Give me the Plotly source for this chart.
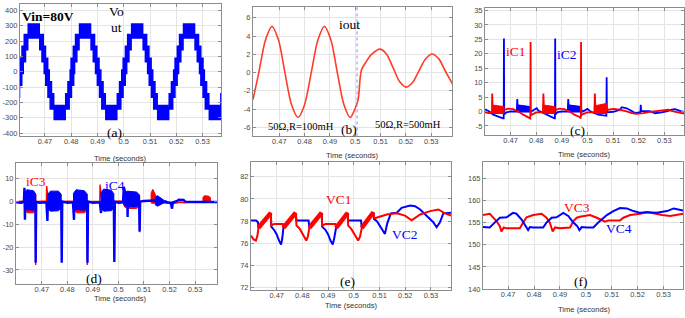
import plotly.graph_objects as go

W, H = 685, 318

# ---------------- data ----------------
# (a) Vout staircase
a_peak_t = [0.46573, 0.48526, 0.50509, 0.52484]
a_trough_t = [0.45585, 0.47561, 0.49525, 0.51500, 0.53465]
a_levels = [77, 155, 232]
a_box = [232, 312]
a_edges = [0.0021, 0.00295, 0.0038, 0.00465]

# (b) iout
b_t = [0.4596, 0.4619, 0.4645, 0.4671, 0.4697, 0.4722, 0.4748, 0.4774, 0.4800, 0.4826,
       0.4852, 0.4878, 0.4904, 0.4929, 0.4955, 0.4980, 0.4997, 0.5011, 0.5024, 0.5042,
       0.5063, 0.5099, 0.5125, 0.5150, 0.5175, 0.5201, 0.5227, 0.5252, 0.5278, 0.5303,
       0.5330, 0.5355, 0.5386]
b_v = [-2.96, 0.0, 3.54, 5.07, 3.54, 0.0, -3.5, -4.93, -3.5, 0.0,
       3.54, 5.07, 3.54, 0.0, -3.5, -4.93, -4.1, -3.0, 0.25, 1.15,
       1.96, 2.57, 1.95, 0.48, -0.99, -1.6, -1.07, 0.22, 1.51, 2.04,
       1.5, 0.2, -1.36]
b_switch_t = 0.5007

# (c) iC1 (red), iC2 (blue)
c_blue_t = [0.4600, 0.4617, 0.4632, 0.4652, 0.4670, 0.4673, 0.4674, 0.4675, 0.4684, 0.4700,
            0.4724, 0.4726, 0.4728, 0.4776, 0.4780, 0.4795, 0.4802, 0.4808, 0.4815, 0.4834,
            0.4854, 0.4871, 0.4873, 0.4874, 0.4875, 0.4884, 0.4900, 0.4923, 0.4925, 0.4927,
            0.4977, 0.4982, 0.4995, 0.5000, 0.5008, 0.5016, 0.5042, 0.5068, 0.5074, 0.5075,
            0.5076, 0.5101, 0.5127, 0.5134, 0.5153, 0.5173, 0.5186, 0.5203, 0.5207, 0.5208,
            0.5210, 0.5244, 0.5264, 0.5290, 0.5309, 0.5329, 0.5342, 0.5361, 0.5380]
c_blue_v = [0.8, 0.0, -1.1, -1.9, -2.4, -2.4, 25.3, -1.0, -0.3, 0.0,
            0.0, 4.3, 1.0, 0.5, 0.0, 0.6, 1.1, 0.3, 0.0, -0.9,
            -1.9, -2.4, -2.4, 25.3, -1.0, -0.2, 0.0, 0.0, 4.3, 1.0,
            0.5, 0.0, 0.7, 0.9, 0.3, -0.2, -1.1, -1.5, -1.5, 11.9,
            -0.3, -0.1, 0.6, 1.5, 1.1, 0.2, -0.6, -0.3, -0.3, 2.3,
            0.2, 0.1, -0.6, -0.3, 0.0, 0.6, 0.8, 0.2, -0.2]
c_blue_band_t0 = [0.4726, 0.4925]
c_blue_band_t1 = [0.4776, 0.4977]
c_blue_band_top0 = [2.3, 2.3]
c_blue_band_top1 = [1.7, 1.7]
c_blue_band_bot = [-0.2, -0.2]

c_red_t = [0.4600, 0.4619, 0.4627, 0.4628, 0.4630, 0.4674, 0.4678, 0.4690, 0.4710, 0.4730,
           0.4749, 0.4769, 0.4776, 0.4777, 0.4778, 0.4779, 0.4785, 0.4800, 0.4826, 0.4828,
           0.4830, 0.4873, 0.4878, 0.4890, 0.4910, 0.4930, 0.4949, 0.4969, 0.4973, 0.4974,
           0.4975, 0.4976, 0.4985, 0.5000, 0.5027, 0.5029, 0.5031, 0.5075, 0.5082, 0.5101,
           0.5127, 0.5153, 0.5173, 0.5192, 0.5218, 0.5244, 0.5270, 0.5296, 0.5316, 0.5335,
           0.5361, 0.5380]
c_red_v = [-0.3, -0.6, -0.3, 6.2, 1.5, 0.5, 0.6, 1.0, 0.8, 0.0,
           -1.1, -1.9, -2.4, -2.4, 24.1, -1.3, -1.0, -0.3, -0.3, 6.2,
           1.5, 0.5, 0.6, 1.0, 0.8, 0.0, -1.1, -1.9, -2.4, -2.4,
           24.1, -1.3, -0.8, -0.3, -0.3, 6.2, 1.5, 0.6, 0.6, 0.9,
           0.6, 0.0, -0.6, -0.8, -0.6, -0.1, 0.2, 0.6, 0.6, 0.0,
           -0.6, -0.8]
c_red_band_t0 = [0.4630, 0.4830, 0.5031]
c_red_band_t1 = [0.4674, 0.4873, 0.5075]
c_red_band_top0 = [2.2, 2.2, 2.0]
c_red_band_top1 = [1.7, 1.7, 2.8]
c_red_band_bot = [-0.7, -0.7, -0.7]

# (d) iC3 (red), iC4 (blue)
d_blue_t = [0.4600, 0.4620, 0.4630, 0.4632, 0.4634, 0.4636, 0.4675, 0.4676, 0.4678, 0.4690,
            0.4718, 0.4722, 0.4724, 0.4776, 0.4778, 0.4780, 0.4800, 0.4822, 0.4826, 0.4828,
            0.4877, 0.4879, 0.4881, 0.4900, 0.4927, 0.4932, 0.4934, 0.4982, 0.4984, 0.4986,
            0.5000, 0.5018, 0.5021, 0.5035, 0.5036, 0.5037, 0.5081, 0.5083, 0.5085, 0.5100,
            0.5140, 0.5195, 0.5205, 0.5210, 0.5213, 0.5230, 0.5236, 0.5255, 0.5262, 0.5300,
            0.5340, 0.5386]
d_blue_v = [-0.3, -0.5, 0.0, 6.1, -8.0, 0.0, 0.0, -26.8, 0.0, -0.5,
            -0.3, -8.5, 0.0, 0.0, -26.8, 0.0, -0.5, -0.3, -8.0, 0.0,
            0.0, -26.8, 0.0, -0.5, -0.3, -5.0, 0.0, 0.0, -26.5, 0.0,
            -0.5, -0.3, 6.5, 0.0, -6.8, 0.0, 0.0, -13.1, 0.0, 0.3,
            0.5, -0.3, -0.5, -3.1, -0.3, 0.3, 0.8, 0.7, 0.0, -0.2,
            -0.3, -0.2]
d_blue_blob_t0 = [0.4632, 0.4723, 0.4824, 0.4932, 0.5021, 0.5144]
d_blue_blob_t1 = [0.4676, 0.4776, 0.4877, 0.4982, 0.5083, 0.5190]
d_blue_blob_hi0 = [5.2, 4.6, 5.2, 5.5, 4.6, 2.6]
d_blue_blob_hi1 = [4.8, 4.6, 4.8, 5.0, 4.2, 0.4]
d_blue_blob_lo0 = [-3.5, -4.2, -3.5, -4.2, -2.1, -2.0]
d_blue_blob_lo1 = [-3.8, -4.0, -3.8, -4.0, -2.1, -0.4]

d_red_t = [0.4600, 0.4632, 0.4675, 0.4676, 0.4677, 0.4700, 0.4718, 0.4719, 0.4722, 0.4726,
           0.4776, 0.4800, 0.4877, 0.4878, 0.4880, 0.4927, 0.4928, 0.4931, 0.4935, 0.4981,
           0.5000, 0.5082, 0.5083, 0.5085, 0.5100, 0.5127, 0.5165, 0.5180, 0.5200, 0.5220,
           0.5240, 0.5260, 0.5300, 0.5325, 0.5365, 0.5386]
d_red_v = [0.0, 0.3, 0.0, -27.8, 0.0, 0.2, 0.2, 6.8, 3.0, 0.0,
           0.0, 0.2, 0.0, -27.8, 0.0, 0.2, 7.5, 3.5, 0.0, 0.0,
           0.3, 0.0, -13.5, 0.0, 0.2, 0.3, 0.0, -0.5, -0.7, -0.7,
           -0.3, -0.5, -0.3, 0.0, 0.0, 0.0]
d_red_blob_t0 = [0.4634, 0.4826, 0.5022, 0.5128, 0.5331]
d_red_blob_t1 = [0.4677, 0.4878, 0.5083, 0.5162, 0.5360]
d_red_blob_hi0 = [4.4, 4.4, 3.6, 5.4, 2.6]
d_red_blob_hi1 = [4.4, 4.4, 3.6, 0.6, 2.4]
d_red_blob_lo0 = [-4.9, -4.9, -3.0, -0.8, 0.0]
d_red_blob_lo1 = [-4.9, -4.9, -3.0, -0.3, 0.0]

# (e) VC1 (red), VC2 (blue)
e_red_t = [0.4600, 0.4610, 0.4619, 0.4625, 0.4629, 0.4677, 0.4679, 0.4690, 0.4724, 0.4726,
           0.4774, 0.4777, 0.4790, 0.4800, 0.4809, 0.4815, 0.4821, 0.4827, 0.4875, 0.4877,
           0.4890, 0.4929, 0.4931, 0.4976, 0.4978, 0.4990, 0.5000, 0.5010, 0.5017, 0.5024,
           0.5031, 0.5076, 0.5079, 0.5100, 0.5128, 0.5167, 0.5199, 0.5225, 0.5240, 0.5258,
           0.5297, 0.5329, 0.5355, 0.5378]
e_red_v = [76.7, 76.35, 76.25, 76.7, 77.4, 78.75, 77.6, 77.75, 77.75, 77.4,
           78.75, 77.6, 77.3, 76.9, 76.45, 76.25, 76.6, 77.4, 78.75, 77.6,
           77.75, 77.75, 77.4, 78.75, 77.6, 77.3, 76.9, 76.45, 76.25, 76.6,
           77.4, 78.8, 78.25, 78.4, 78.6, 78.7, 78.5, 78.07, 78.3, 78.6,
           78.9, 79.05, 78.7, 78.5]
e_blue_t = [0.4600, 0.4620, 0.4627, 0.4629, 0.4677, 0.4679, 0.4690, 0.4700, 0.4710, 0.4717,
            0.4722, 0.4726, 0.4774, 0.4777, 0.4824, 0.4827, 0.4875, 0.4877, 0.4890, 0.4900,
            0.4910, 0.4918, 0.4924, 0.4931, 0.4976, 0.4978, 0.5028, 0.5031, 0.5076, 0.5078,
            0.5090, 0.5100, 0.5110, 0.5121, 0.5130, 0.5144, 0.5167, 0.5186, 0.5219, 0.5238,
            0.5258, 0.5284, 0.5309, 0.5322, 0.5335, 0.5348, 0.5378]
e_blue_v = [78.05, 78.05, 77.9, 77.4, 78.7, 77.5, 77.2, 76.8, 76.2, 75.9,
            76.5, 77.4, 78.7, 78.05, 78.05, 77.4, 78.7, 77.5, 77.2, 76.8,
            76.2, 75.9, 76.5, 77.4, 78.7, 78.05, 78.05, 77.4, 78.8, 78.2,
            78.0, 77.6, 77.2, 76.85, 77.8, 78.7, 78.75, 79.2, 79.4, 79.35,
            79.05, 78.45, 77.9, 77.45, 77.9, 78.7, 78.75]
e_saw_t0 = [0.4629, 0.4726, 0.4827, 0.4931, 0.5031]
e_saw_t1 = [0.4677, 0.4774, 0.4875, 0.4976, 0.5076]
e_saw_v0 = [77.4, 77.4, 77.4, 77.4, 77.4]
e_saw_v1 = [78.75, 78.75, 78.75, 78.75, 78.8]

# (f) VC3 (red), VC4 (blue)
f_red_t = [0.4603, 0.4629, 0.4655, 0.4668, 0.4674, 0.4683, 0.4694, 0.4745, 0.4758, 0.4771,
           0.4797, 0.4829, 0.4848, 0.4861, 0.4872, 0.4881, 0.4900, 0.4939, 0.4952, 0.4965,
           0.4977, 0.5016, 0.5042, 0.5061, 0.5074, 0.5087, 0.5132, 0.5145, 0.5171, 0.5210,
           0.5235, 0.5261, 0.5294, 0.5326, 0.5352, 0.5377]
f_red_v = [156.7, 157.0, 155.35, 154.2, 153.0, 153.9, 153.7, 153.7, 155.0, 156.2,
           156.7, 157.0, 156.1, 155.0, 153.0, 153.9, 153.7, 153.9, 155.35, 156.1,
           156.3, 156.7, 156.1, 155.5, 155.2, 155.5, 155.5, 156.1, 156.7, 157.0,
           157.4, 157.1, 156.7, 156.5, 156.8, 157.0]
f_blue_t = [0.4603, 0.4629, 0.4648, 0.4668, 0.4694, 0.4719, 0.4732, 0.4752, 0.4768, 0.4777,
            0.4784, 0.4797, 0.4835, 0.4848, 0.4868, 0.4887, 0.4913, 0.4932, 0.4952, 0.4967,
            0.4975, 0.4984, 0.5003, 0.5029, 0.5048, 0.5068, 0.5081, 0.5106, 0.5132, 0.5158,
            0.5184, 0.5210, 0.5235, 0.5274, 0.5313, 0.5339, 0.5365, 0.5377]
f_blue_v = [154.0, 153.9, 155.0, 156.1, 156.2, 157.2, 157.0, 155.7, 154.2, 153.3,
            154.0, 153.9, 153.9, 155.0, 156.1, 156.2, 157.2, 156.5, 155.0, 154.2,
            153.3, 154.0, 153.9, 153.9, 155.0, 156.1, 156.7, 157.6, 158.3, 158.2,
            157.6, 157.2, 157.35, 157.2, 157.6, 158.2, 157.9, 157.7]

x_tickvals = [0.47, 0.48, 0.49, 0.50, 0.51, 0.52, 0.53]
x_ticktext = ["0.47", "0.48", "0.49", "0.5", "0.51", "0.52", "0.53"]

# ---------------- styling ----------------
BLUE = "#0000ff"
RED = "#ff0000"
ORANGE = "#ff3c28"
GRID = "#e4e4e4"
FRAME = "#8c8c8c"
TICKC = "#4a4a4a"
SANS = "Liberation Sans, Arial, sans-serif"
SERIF = "Liberation Serif, Times New Roman, serif"


def box(px0, px1, py0, py1):
    return [px0 / W, px1 / W], [1 - py1 / H, 1 - py0 / H]


def axis(domain, rng, tickvals, ticktext, anchor, standoff):
    return dict(domain=domain, range=rng, tickvals=tickvals, ticktext=ticktext,
                anchor=anchor, showgrid=True, gridcolor=GRID, gridwidth=1,
                zeroline=False, showline=True, linecolor=FRAME, linewidth=1,
                mirror="ticks", ticks="inside", ticklen=3, tickcolor=FRAME,
                ticklabelstandoff=standoff,
                tickfont=dict(family=SANS, size=7.5, color=TICKC))


fig = go.Figure()

panels = {
    "a": dict(px=(20, 221, 2, 137), xr=[0.4605, 0.5370], yr=[-422, 442],
              yt=[-400, -300, -200, -100, 0, 100, 200, 300, 400]),
    "b": dict(px=(253, 452, 5, 137), xr=[0.4596, 0.5382], yr=[-7.0, 7.2],
              yt=[-6, -4, -2, 0, 2, 4, 6]),
    "c": dict(px=(485, 684, 6, 136), xr=[0.4600, 0.5377], yr=[-8.3, 35.9],
              yt=[-5, 0, 5, 10, 15, 20, 25, 30, 35]),
    "d": dict(px=(16, 217, 164, 287), xr=[0.4599, 0.5386], yr=[-36.0, 17.0],
              yt=[-30, -20, -10, 0, 10]),
    "e": dict(px=(251, 451, 163, 294), xr=[0.4600, 0.5378], yr=[71.76, 83.33],
              yt=[72, 74, 76, 78, 80, 82]),
    "f": dict(px=(483, 683, 163, 293), xr=[0.4603, 0.5375], yr=[139.9, 168.7],
              yt=[140, 145, 150, 155, 160, 165]),
}
refs = {}
layout_axes = {}
for i, (k, p) in enumerate(panels.items(), start=1):
    xd, yd = box(*p["px"])
    xs = "x" if i == 1 else f"x{i}"
    ys = "y" if i == 1 else f"y{i}"
    refs[k] = (xs, ys)
    xname = "xaxis" if i == 1 else f"xaxis{i}"
    yname = "yaxis" if i == 1 else f"yaxis{i}"
    layout_axes[xname] = axis(xd, p["xr"], x_tickvals, x_ticktext, ys, -2)
    layout_axes[yname] = axis(yd, p["yr"], p["yt"], [str(v) for v in p["yt"]], xs, 0)


def add(k, **kw):
    xs, ys = refs[k]
    fig.add_trace(go.Scatter(xaxis=xs, yaxis=ys, showlegend=False, hoverinfo="skip", **kw))


# ---- (a) ----
ext = sorted([(t, 1) for t in a_peak_t] + [(t, -1) for t in a_trough_t])
sx, sy = [], []
bx, by = [], []
for c, s in ext:
    e0, e1, e2, e3 = a_edges
    L1, L2, L3 = a_levels
    sx += [c - e3, c - e2, c - e1, c + e1, c + e2, c + e3]
    sy += [s * L1, s * L2, s * L3, s * L2, s * L1, 0]
    bx += [c - e0, c + e0, c + e0, c - e0, c - e0, None]
    by += [s * a_box[0], s * a_box[0], s * a_box[1], s * a_box[1], s * a_box[0], None]
add("a", x=sx, y=sy, mode="lines", line=dict(color=BLUE, width=5, shape="hv"))
add("a", x=bx, y=by, mode="lines", fill="toself", fillcolor=BLUE,
    line=dict(color=BLUE, width=1.5))

# ---- (b) ----
add("b", x=b_t, y=b_v, mode="lines", line=dict(color=ORANGE, width=1.6, shape="spline", smoothing=0.8))

# ---- (c) ----
def bands(t0s, t1s, top0, top1, bot):
    xx, yy = [], []
    for a0, a1, u0, u1, b0 in zip(t0s, t1s, top0, top1, bot):
        xx += [a0, a0, a1, a1, a0, None]
        yy += [b0, u0, u1, b0, b0, None]
    return xx, yy

xx, yy = bands(c_blue_band_t0, c_blue_band_t1, c_blue_band_top0, c_blue_band_top1, c_blue_band_bot)
add("c", x=xx, y=yy, mode="lines", fill="toself", fillcolor=BLUE, line=dict(color=BLUE, width=1))
add("c", x=c_blue_t, y=c_blue_v, mode="lines", line=dict(color=BLUE, width=1.8))
xx, yy = bands(c_red_band_t0, c_red_band_t1, c_red_band_top0, c_red_band_top1, c_red_band_bot)
add("c", x=xx, y=yy, mode="lines", fill="toself", fillcolor=RED, line=dict(color=RED, width=1))
add("c", x=c_red_t, y=c_red_v, mode="lines", line=dict(color=RED, width=1.8))

# ---- (d) ----
def blobs(t0s, t1s, hi0, hi1, lo0, lo1):
    xx, yy = [], []
    for a0, a1, h0, h1, l0, l1 in zip(t0s, t1s, hi0, hi1, lo0, lo1):
        w = a1 - a0
        xx += [a0, a0, a0 + 0.2 * w, a1 - 0.2 * w, a1, a1, a1 - 0.2 * w, a0 + 0.2 * w, a0, None]
        yy += [l0 * 0.7, h0 * 0.7, h0, h1, h1 * 0.7, l1 * 0.7, l1, l0, l0 * 0.7, None]
    return xx, yy

xx, yy = blobs(d_red_blob_t0, d_red_blob_t1, d_red_blob_hi0, d_red_blob_hi1, d_red_blob_lo0, d_red_blob_lo1)
add("d", x=xx, y=yy, mode="lines", fill="toself", fillcolor=RED, line=dict(color=RED, width=1))
add("d", x=d_red_t, y=d_red_v, mode="lines", line=dict(color=RED, width=1.4))
xx, yy = blobs(d_blue_blob_t0, d_blue_blob_t1, d_blue_blob_hi0, d_blue_blob_hi1, d_blue_blob_lo0, d_blue_blob_lo1)
add("d", x=xx, y=yy, mode="lines", fill="toself", fillcolor=BLUE, line=dict(color=BLUE, width=1))
add("d", x=d_blue_t, y=d_blue_v, mode="lines", line=dict(color=BLUE, width=2.4))

# ---- (e) ----
add("e", x=e_blue_t, y=e_blue_v, mode="lines", line=dict(color=BLUE, width=2))
add("e", x=e_red_t, y=e_red_v, mode="lines", line=dict(color=RED, width=2))
sx, sy = [], []
for a0, a1, v0, v1 in zip(e_saw_t0, e_saw_t1, e_saw_v0, e_saw_v1):
    sx += [a0, a1, None]
    sy += [v0, v1, None]
add("e", x=sx, y=sy, mode="lines", line=dict(color=RED, width=4.5))

# ---- (f) ----
add("f", x=f_red_t, y=f_red_v, mode="lines", line=dict(color=RED, width=2))
add("f", x=f_blue_t, y=f_blue_v, mode="lines", line=dict(color=BLUE, width=2))

# ---------------- annotations ----------------
def note(text, px, py, size, color="black", family=SERIF, bold=False):
    if bold:
        text = f"<b>{text}</b>"
    return dict(text=text, x=px / W, y=1 - py / H, xref="paper", yref="paper",
                xanchor="center", yanchor="middle", showarrow=False,
                font=dict(family=family, size=size, color=color))

anns = [
    note("Vin=80V", 48, 14.5, 13.5, bold=True),
    note("Vo", 116, 10, 13.5),
    note("ut", 116.5, 26, 13.5),
    note("(a)", 114, 133, 13.5),
    note("iout", 349, 22.7, 13.5),
    note("50Ω,R=100mH", 301, 126.5, 10.5),
    note("(b)", 348.5, 130, 13.5),
    note("50Ω,R=500mH", 407.5, 125, 10.5),
    note("iC1", 515.5, 50.5, 13.5, RED),
    note("iC2", 566.5, 53.5, 13.5, BLUE),
    note("(c)", 577, 131, 13.5),
    note("iC3", 36, 183.3, 13.5, RED),
    note("iC4", 114.5, 187.3, 13.5, BLUE),
    note("(d)", 94, 281.5, 13.5),
    note("VC1", 338.5, 201.7, 13.5, RED),
    note("VC2", 405, 237.3, 13.5, BLUE),
    note("(e)", 347.5, 285, 13.5),
    note("VC3", 577, 209.3, 13.5, RED),
    note("VC4", 619, 230.7, 13.5, BLUE),
    note("(f)", 580.5, 285, 13.5),
]
for px, py in [(120.5, 159.5), (352, 156.5), (584, 155.5), (120.5, 302), (351, 309.5), (584, 313)]:
    anns.append(note("Time (seconds)", px, py, 7.6, "#333333", SANS))

shapes = [dict(type="line", xref="x2", yref="y2 domain", x0=b_switch_t, x1=b_switch_t,
               y0=0, y1=1, line=dict(color="#8c8cff", width=1, dash="dot"))]

fig.update_layout(width=W, height=H, autosize=False,
                  margin=dict(l=0, r=0, t=0, b=0),
                  paper_bgcolor="white", plot_bgcolor="white",
                  annotations=anns, shapes=shapes, **layout_axes)

fig.write_html("out.html", config={"displayModeBar": False, "staticPlot": True},
               post_script="document.body.style.margin='0';document.body.style.overflow='hidden';")
